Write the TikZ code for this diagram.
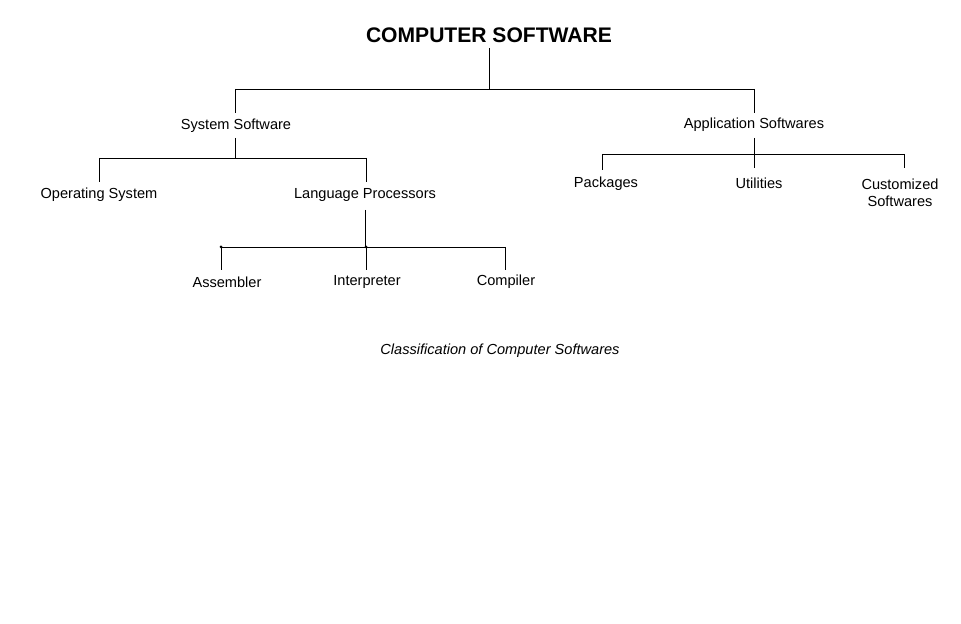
\documentclass[tikz,border=0pt]{standalone}
\usepackage{fontspec}
\setmainfont{Liberation Sans}
\usetikzlibrary{positioning}

\begin{document}
\begin{tikzpicture}[x=0.02cm,y=-0.02cm,
  lbl/.style={font=\fontsize{8.3}{10}\selectfont,inner sep=1pt,align=center},
  link/.style={line width=0.5pt}]
\useasboundingbox (0,0) rectangle (961,624);
% Top level
\node[font=\bfseries\fontsize{12}{14}\selectfont] (cs) at (489,35) {COMPUTER SOFTWARE};
\node[lbl] (sys) at (236,126) {System Software};
\node[lbl] (app) at (754,125) {Application Softwares};
% System branch
\node[lbl] (os) at (99,195) {Operating System};
\node[lbl] (lp) at (365,195) {Language Processors};
\node[lbl] (asm) at (227,282) {Assembler};
\node[lbl] (int) at (367,282) {Interpreter};
\node[lbl] (cmp) at (506,282) {Compiler};
% Application branch
\node[lbl] (pkg) at (606,184) {Packages};
\node[lbl] (utl) at (759,183) {Utilities};
\node[lbl] (cus) at (900,193) {Customized\\Softwares};
% Caption
\node[lbl,font=\itshape\fontsize{8.3}{10}\selectfont] (cap) at (500,351) {Classification of Computer Softwares};

% Connectors
\draw[link] (489,48) -- (489,89) (235,89) -- (754,89)
  (235,89) -- (235,113) (754,89) -- (754,113);
\draw[link] (235,138) -- (235,158) (99,158) -- (366,158)
  (99,158) -- (99,182) (366,158) -- (366,182);
\draw[link] (365,210) -- (365,247) (221,247) -- (505,247)
  (221,247) -- (221,270) (366,247) -- (366,270) (505,247) -- (505,270);
\fill (221,247) circle (1.5) (366,247) circle (1.5);
\draw[link] (754,138) -- (754,154) (602,154) -- (904,154)
  (602,154) -- (602,170) (754,154) -- (754,168) (904,154) -- (904,168);
\end{tikzpicture}
\end{document}
